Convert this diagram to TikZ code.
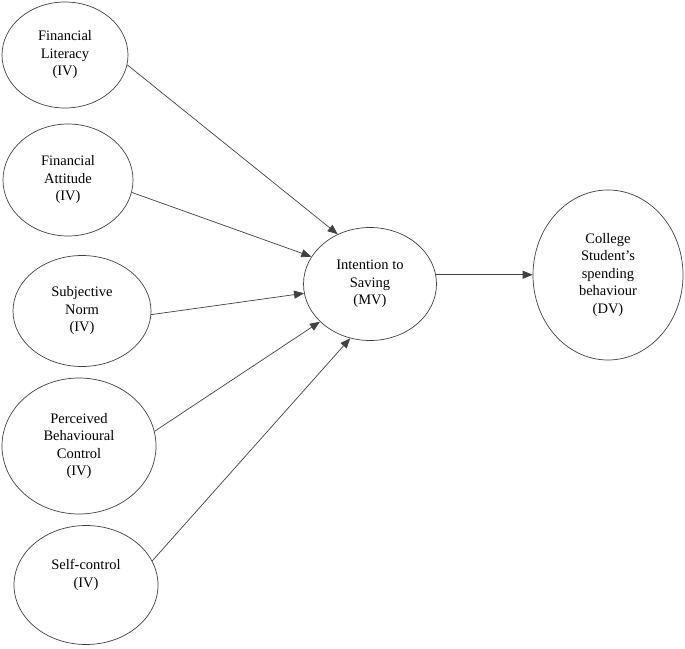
\documentclass[tikz,border=0pt]{standalone}
\usepackage{fontspec}
\setmainfont{Liberation Serif}
\usetikzlibrary{shapes.geometric,arrows.meta}
\begin{document}
\begin{tikzpicture}[x=1pt,y=-1pt,
  var/.style={ellipse,draw=black!75,line width=0.7pt,inner sep=0pt,align=center,
    font=\fontsize{14.5}{17.5}\selectfont},
  link/.style={draw=black!75,line width=0.7pt,-{Triangle[length=10pt,width=8pt]}}]
\useasboundingbox (0,0) rectangle (685,648);
\node[var,minimum width=126pt,minimum height=106pt] (fl) at (65,55) {Financial\\Literacy\\(IV)};
\node[var,minimum width=130pt,minimum height=112pt] (fa) at (68,180) {Financial\\Attitude\\(IV)};
\node[var,minimum width=138pt,minimum height=111pt] (sn) at (82,311) {Subjective\\Norm\\(IV)};
\node[var,minimum width=154pt,minimum height=136pt] (pbc) at (79,446) {Perceived\\Behavioural\\Control\\(IV)};
\node[var,minimum width=144pt,minimum height=119pt] (sc) at (86,585) {Self-control\\(IV)\\[6pt]};
\node[var,minimum width=133pt,minimum height=113pt] (im) at (370,284) {Intention to\\Saving\\(MV)};
\node[var,minimum width=150pt,minimum height=170pt] (cs) at (608,275) {College\\Student’s\\spending\\behaviour\\(DV)};
\draw[link] (fl.-9) -- (im.123);
\draw[link] (fa.-11) -- (im.155);
\draw[link] (sn.-3) -- (im.188);
\draw[link] (pbc.11) -- (im.217);
\draw[link] (sc.20) -- (im.250);
\draw[link] (im.8) -- (im.8 -| cs.west);
\end{tikzpicture}
\end{document}
